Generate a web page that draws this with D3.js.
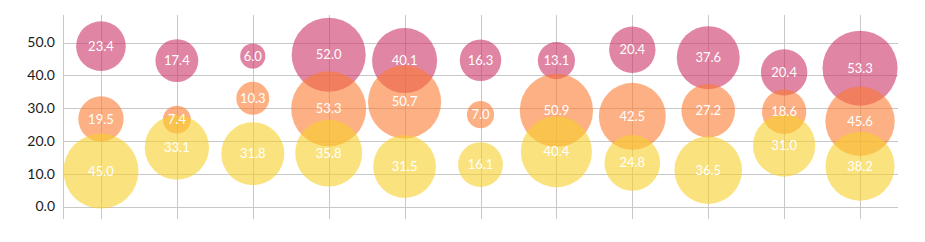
<!DOCTYPE html>
<html>
<head>
<meta charset="utf-8">
<script src="https://cdn.jsdelivr.net/npm/d3@7"></script>
<style>
  body { margin: 0; background: #fff; }
  svg { display: block; font-family: Lato, "Open Sans", sans-serif; }
</style>
</head>
<body>
<svg></svg>
<script>
var categories = ["1", "2", "3", "4", "5", "6", "7", "8", "9", "10", "11"];
var yTicks = [0, 10, 20, 30, 40, 50];

// series: y position and bubble size (size is the label)
var pinkY     = [48.9, 44.5, 45.9, 46.3, 44.5, 44.6, 44.5, 47.8, 45.4, 40.9, 42.2];
var pinkSize  = [23.4, 17.4, 6.0, 52.0, 40.1, 16.3, 13.1, 20.4, 37.6, 20.4, 53.3];
var orangeY    = [26.7, 26.5, 33.0, 29.8, 31.9, 28.0, 29.3, 27.5, 29.2, 28.9, 26.0];
var orangeSize = [19.5, 7.4, 10.3, 53.3, 50.7, 7.0, 50.9, 42.5, 27.2, 18.6, 45.6];
var yellowY    = [10.8, 18.0, 16.1, 16.3, 12.2, 12.8, 16.7, 13.3, 11.1, 18.6, 12.3];
var yellowSize = [45.0, 33.1, 31.8, 35.8, 31.5, 16.1, 40.4, 24.8, 36.5, 31.0, 38.2];

// drawn in this order: pink at the back, yellow on top
var series = [
  {name: "pink",   color: "#cc3366", y: pinkY,   size: pinkSize},
  {name: "orange", color: "#fb7b32", y: orangeY, size: orangeSize},
  {name: "yellow", color: "#f6d12a", y: yellowY, size: yellowSize}
];

var w = 925, h = 242;
var plotLeft = 63, plotRight = 898, plotTop = 15, plotBottom = 219;

var svg = d3.select("svg").attr("width", w).attr("height", h);

var x = d3.scalePoint().domain(categories).range([plotLeft, plotRight]).padding(0.5);
var y = d3.scaleLinear().domain([-3.8, 58.4]).range([plotBottom, plotTop]);

var grid = svg.append("g").attr("stroke", "#c8c8c8").attr("stroke-width", 1);
grid.selectAll(".hl").data(yTicks).enter().append("line")
  .attr("x1", plotLeft).attr("x2", plotRight)
  .attr("y1", function(d) { return Math.round(y(d)) + 0.5; })
  .attr("y2", function(d) { return Math.round(y(d)) + 0.5; });
grid.append("line")
  .attr("x1", plotLeft + 0.5).attr("x2", plotLeft + 0.5)
  .attr("y1", plotTop).attr("y2", plotBottom);
grid.selectAll(".vl").data(categories).enter().append("line")
  .attr("x1", function(d) { return Math.round(x(d)) + 0.5; })
  .attr("x2", function(d) { return Math.round(x(d)) + 0.5; })
  .attr("y1", plotTop).attr("y2", plotBottom);

svg.append("g").selectAll("text").data(yTicks).enter().append("text")
  .attr("x", 55)
  .attr("y", function(d) { return y(d); })
  .attr("dy", "0.35em")
  .attr("text-anchor", "end")
  .attr("font-size", 14)
  .attr("fill", "#1a1a1a")
  .text(function(d) { return d.toFixed(1); });

var maxR = 37.5;

series.forEach(function(s) {
  var r = d3.scaleSqrt().domain([0, d3.max(s.size)]).range([0, maxR]);
  svg.append("g").selectAll("circle").data(categories).enter().append("circle")
    .attr("cx", function(d) { return x(d); })
    .attr("cy", function(d, i) { return y(s.y[i]); })
    .attr("r", function(d, i) { return r(s.size[i]); })
    .attr("fill", s.color)
    .attr("fill-opacity", 0.6);
});

series.forEach(function(s) {
  svg.append("g").selectAll("text").data(categories).enter().append("text")
    .attr("x", function(d) { return x(d); })
    .attr("y", function(d, i) { return y(s.y[i]); })
    .attr("dy", "0.35em")
    .attr("text-anchor", "middle")
    .attr("font-size", 13)
    .attr("fill", "#fff")
    .text(function(d, i) { return s.size[i].toFixed(1); });
});
</script>
</body>
</html>
